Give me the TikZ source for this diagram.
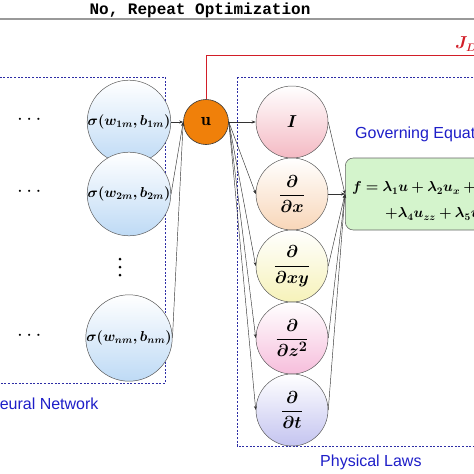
\documentclass[tikz,border=0pt]{standalone}
\usepackage{amsmath,bm}
\usepackage{fontspec}
\newfontfamily\cour{Liberation Mono}
\newfontfamily\arial{Liberation Sans}
\usetikzlibrary{arrows.meta}
\definecolor{boxblue}{RGB}{45,45,165}
\definecolor{lblblue}{RGB}{30,30,200}
\definecolor{redl}{RGB}{210,30,40}
\definecolor{uorange}{RGB}{240,128,10}
\definecolor{eqgreen}{RGB}{212,244,204}
\definecolor{nbot}{RGB}{190,218,245}
\definecolor{ibot}{RGB}{244,185,195}
\definecolor{xbot}{RGB}{248,214,184}
\definecolor{xybot}{RGB}{246,242,185}
\definecolor{zbot}{RGB}{246,190,220}
\definecolor{tbot}{RGB}{196,196,240}
\tikzset{
  neuron/.style={circle,draw=black!65,line width=0.5pt,minimum size=73pt,inner sep=0pt,top color=white,bottom color=nbot,font=\fontsize{14}{16}\selectfont},
  opnode/.style={circle,draw=black!65,line width=0.5pt,minimum size=72pt,inner sep=0pt,font=\fontsize{19}{22}\selectfont},
  unode/.style={circle,draw=black!80,line width=0.6pt,minimum size=45pt,inner sep=0pt,fill=uorange,font=\fontsize{18}{20}\selectfont},
  conn/.style={draw=black!80,line width=0.45pt,-{Stealth[length=4pt,width=3pt]}},
  netbox/.style={draw=boxblue,line width=1pt,dash pattern=on 2pt off 1.6pt},
  lbl/.style={text=lblblue,font=\arial\fontsize{16}{18}\selectfont,inner sep=0pt},
  dotsl/.style={font=\fontsize{21}{24}\selectfont,inner sep=0pt},
  vdot/.style={circle,fill=black,inner sep=0pt,minimum size=3pt},
  eqtext/.style={font=\fontsize{14}{16}\selectfont,inner sep=0pt,anchor=west}
}
\begin{document}
\begin{tikzpicture}[x=1pt,y=-1pt]
\useasboundingbox (0,0) rectangle (474,474);
\clip (0,0) rectangle (474,474);
% title and top rule
\node[font=\cour\bfseries\fontsize{16}{18}\selectfont,inner sep=0pt] (title) at (200,10) {No, Repeat Optimization};
\draw[black!40,line width=1.5pt] (0,19) -- (474,19);
% boxes
\draw[netbox] (-10,77) rectangle (165,383);
\draw[netbox] (237,77) rectangle (490,446);
\node[lbl,anchor=west] (nnlbl) at (-12,404) {Neural Network};
\node[lbl,anchor=west] (pllbl) at (320,462) {Physical Laws};
\node[lbl,anchor=west] (gelbl) at (355,134) {Governing Equation};
% neurons
\node[neuron] (n1) at (129,122) {$\bm{\sigma(w_{1m},b_{1m})}$};
\node[neuron] (n2) at (129,194) {$\bm{\sigma(w_{2m},b_{2m})}$};
\node[neuron] (n3) at (129,338) {$\bm{\sigma(w_{nm},b_{nm})}$};
\node[dotsl] (d1) at (31,120) {$\cdots$};
\node[dotsl] (d2) at (31,192) {$\cdots$};
\node[dotsl] (d3) at (31,336) {$\cdots$};
\node[vdot] (vd1) at (120,259) {};
\node[vdot] (vd2) at (120,267) {};
\node[vdot] (vd3) at (120,275) {};
% u
\node[unode] (u) at (206,122) {$\mathbf{u}$};
% operators
\node[opnode,top color=white,bottom color=ibot] (o1) at (292,122) {$\bm{I}$};
\node[opnode,top color=white,bottom color=xbot] (o2) at (292,194) {$\bm{\dfrac{\partial}{\partial x}}$};
\node[opnode,top color=white,bottom color=xybot] (o3) at (292,266) {$\bm{\dfrac{\partial}{\partial xy}}$};
\node[opnode,top color=white,bottom color=zbot] (o4) at (292,338) {$\bm{\dfrac{\partial}{\partial z^2}}$};
\node[opnode,top color=white,bottom color=tbot] (o5) at (292,410) {$\bm{\dfrac{\partial}{\partial t}}$};
% equation box
\node[draw=black!60,line width=0.6pt,fill=eqgreen,rounded corners=8pt,minimum width=180pt,minimum height=72pt,anchor=west] (eq) at (345,194) {};
\node[eqtext] (eq1) at (352,189) {$\bm{f=\lambda_1u+\lambda_2u_x+\lambda_3u_{xy}}$};
\node[eqtext] (eq2) at (385,214) {$\bm{+\lambda_4u_{zz}+\lambda_5u_t}$};
% red loss line
\coordinate (rc1) at (206,55);
\coordinate (rc2) at (490,55);
\draw[redl,line width=0.8pt] (u.north) -- (rc1) -- (rc2);
\node[text=redl,font=\fontsize{16}{18}\selectfont,anchor=west,inner sep=0pt] (jd) at (455,44) {$\bm{J_D}$};
% connectors
\foreach \n in {n1,n2,n3} \draw[conn] (\n.east) -- (u.west);
\foreach \o in {o1,o2,o3,o4,o5} \draw[conn] (u.east) -- (\o.west);
\foreach \o in {o1,o2,o3,o4,o5} \draw[conn] (\o.east) -- (eq.west);
\end{tikzpicture}
\end{document}
